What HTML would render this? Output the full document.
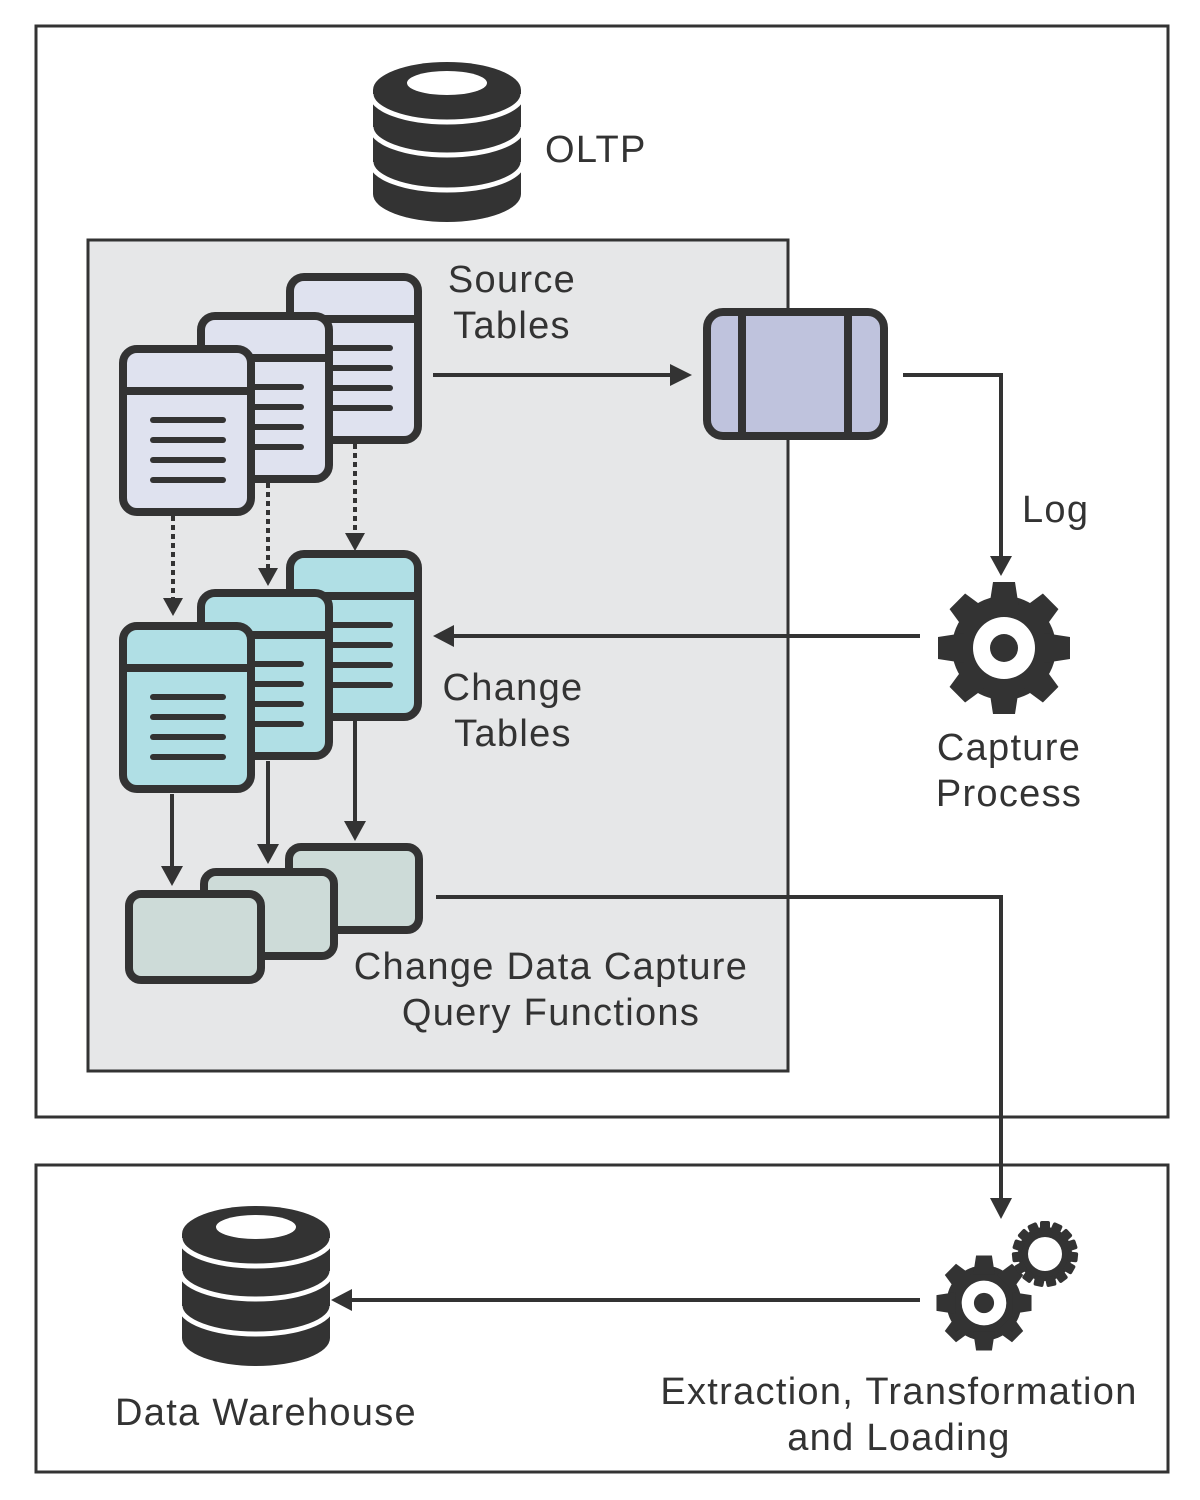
<!DOCTYPE html>
<html><head><meta charset="utf-8"><style>
html,body{margin:0;padding:0;background:#fff;}
svg{display:block;}
text{font-family:"Liberation Sans",Arial,sans-serif;fill:#333;font-size:38px;letter-spacing:1.3px;}
</style></head><body>
<svg width="1200" height="1500" viewBox="0 0 1200 1500" xmlns="http://www.w3.org/2000/svg">
<defs>
<g id="db">
<path d="M0,28 A74,28 0 0 1 148,28 L148,132 A74,28 0 0 1 0,132 Z" fill="#333"/>
<ellipse cx="74" cy="21" rx="40" ry="12" fill="#fff"/>
<path d="M-2,32 A76,28 0 0 0 150,32" fill="none" stroke="#fff" stroke-width="5"/>
<path d="M-2,65 A76,28 0 0 0 150,65" fill="none" stroke="#fff" stroke-width="5"/>
<path d="M-2,100 A76,28 0 0 0 150,100" fill="none" stroke="#fff" stroke-width="5"/>
</g>
<g id="gear">
<circle r="52" fill="#333"/>
<g fill="#333">
<path d="M-15,-40 L-11,-66 L11,-66 L15,-40 Z"/>
<path d="M-15,-40 L-11,-66 L11,-66 L15,-40 Z" transform="rotate(45)"/>
<path d="M-15,-40 L-11,-66 L11,-66 L15,-40 Z" transform="rotate(90)"/>
<path d="M-15,-40 L-11,-66 L11,-66 L15,-40 Z" transform="rotate(135)"/>
<path d="M-15,-40 L-11,-66 L11,-66 L15,-40 Z" transform="rotate(180)"/>
<path d="M-15,-40 L-11,-66 L11,-66 L15,-40 Z" transform="rotate(225)"/>
<path d="M-15,-40 L-11,-66 L11,-66 L15,-40 Z" transform="rotate(270)"/>
<path d="M-15,-40 L-11,-66 L11,-66 L15,-40 Z" transform="rotate(315)"/>
</g>
<circle r="31" fill="#fff"/>
<circle r="14" fill="#333"/>
</g>
<g id="doc">
<rect x="0" y="0" width="128" height="163" rx="14" fill="currentColor" stroke="#333" stroke-width="8"/>
<line x1="0" y1="42" x2="128" y2="42" stroke="#333" stroke-width="8"/>
<g stroke="#333" stroke-width="6" stroke-linecap="round">
<line x1="30" y1="71" x2="100" y2="71"/><line x1="30" y1="91" x2="100" y2="91"/>
<line x1="30" y1="111" x2="100" y2="111"/><line x1="30" y1="131" x2="100" y2="131"/>
</g>
</g>
</defs>

<rect x="36" y="26" width="1132" height="1091" fill="none" stroke="#333" stroke-width="3"/>
<rect x="88" y="240" width="700" height="831" fill="#e6e7e8" stroke="#333" stroke-width="3"/>
<rect x="36" y="1165" width="1132" height="307" fill="none" stroke="#333" stroke-width="3"/>

<use href="#db" x="373" y="62"/>
<text x="545" y="162">OLTP</text>

<g color="#dfe2ef">
<use href="#doc" x="290" y="277"/>
<use href="#doc" x="201" y="316"/>
<use href="#doc" x="123" y="349"/>
</g>
<g color="#b0dfe5">
<use href="#doc" x="290" y="554"/>
<use href="#doc" x="201" y="593"/>
<use href="#doc" x="123" y="626"/>
</g>

<g stroke="#333" stroke-width="4" stroke-dasharray="5,4" fill="none">
<line x1="173" y1="516" x2="173" y2="598"/>
<line x1="268" y1="483" x2="268" y2="568"/>
<line x1="355" y1="444" x2="355" y2="533"/>
</g>
<g fill="#333">
<path d="M163,598 L183,598 L173,616 Z"/>
<path d="M258,568 L278,568 L268,586 Z"/>
<path d="M345,533 L365,533 L355,551 Z"/>
</g>

<g stroke="#333" stroke-width="4">
<line x1="172" y1="794" x2="172" y2="868"/>
<line x1="268" y1="761" x2="268" y2="846"/>
<line x1="355" y1="721" x2="355" y2="823"/>
</g>
<g fill="#333">
<path d="M161,866 L183,866 L172,886 Z"/>
<path d="M257,844 L279,844 L268,864 Z"/>
<path d="M344,821 L366,821 L355,841 Z"/>
</g>

<g fill="#cddbd8" stroke="#333" stroke-width="8">
<rect x="289" y="847" width="130" height="83" rx="12"/>
<rect x="204" y="872" width="130" height="84" rx="12"/>
<rect x="129" y="894" width="132" height="86" rx="12"/>
</g>

<text x="512" y="292" text-anchor="middle">Source</text>
<text x="512" y="338" text-anchor="middle">Tables</text>
<text x="513" y="700" text-anchor="middle">Change</text>
<text x="513" y="746" text-anchor="middle">Tables</text>
<text x="551" y="979" text-anchor="middle">Change Data Capture</text>
<text x="551" y="1025" text-anchor="middle">Query Functions</text>

<rect x="707" y="312" width="177" height="124" rx="16" fill="#bfc3dd" stroke="#333" stroke-width="8"/>
<line x1="742" y1="312" x2="742" y2="436" stroke="#333" stroke-width="8"/>
<line x1="848" y1="312" x2="848" y2="436" stroke="#333" stroke-width="8"/>

<g stroke="#333" stroke-width="4" fill="none">
<line x1="433" y1="375" x2="672" y2="375"/>
<polyline points="903,375 1001,375 1001,558"/>
<line x1="920" y1="636" x2="452" y2="636"/>
<polyline points="436,897 1001,897 1001,1200"/>
<line x1="920" y1="1300" x2="350" y2="1300"/>
</g>
<g fill="#333">
<path d="M670,364 L692,375 L670,386 Z"/>
<path d="M990,556 L1012,556 L1001,576 Z"/>
<path d="M454,625 L454,647 L433,636 Z"/>
<path d="M990,1198 L1012,1198 L1001,1219 Z"/>
<path d="M352,1289 L352,1311 L331,1300 Z"/>
</g>

<text x="1022" y="522">Log</text>
<use href="#gear" x="1004" y="648"/>
<text x="1009" y="760" text-anchor="middle">Capture</text>
<text x="1009" y="806" text-anchor="middle">Process</text>

<g transform="translate(984,1303) scale(0.72)"><use href="#gear"/></g>
<g transform="translate(1045,1254)" fill="#333">
<circle r="27"/>
<rect x="-5" y="-33" width="10" height="10" rx="2"/>
<rect x="-5" y="-33" width="10" height="10" rx="2" transform="rotate(24)"/>
<rect x="-5" y="-33" width="10" height="10" rx="2" transform="rotate(48)"/>
<rect x="-5" y="-33" width="10" height="10" rx="2" transform="rotate(72)"/>
<rect x="-5" y="-33" width="10" height="10" rx="2" transform="rotate(96)"/>
<rect x="-5" y="-33" width="10" height="10" rx="2" transform="rotate(120)"/>
<rect x="-5" y="-33" width="10" height="10" rx="2" transform="rotate(144)"/>
<rect x="-5" y="-33" width="10" height="10" rx="2" transform="rotate(168)"/>
<rect x="-5" y="-33" width="10" height="10" rx="2" transform="rotate(192)"/>
<rect x="-5" y="-33" width="10" height="10" rx="2" transform="rotate(216)"/>
<rect x="-5" y="-33" width="10" height="10" rx="2" transform="rotate(240)"/>
<rect x="-5" y="-33" width="10" height="10" rx="2" transform="rotate(264)"/>
<rect x="-5" y="-33" width="10" height="10" rx="2" transform="rotate(288)"/>
<rect x="-5" y="-33" width="10" height="10" rx="2" transform="rotate(312)"/>
<rect x="-5" y="-33" width="10" height="10" rx="2" transform="rotate(336)"/>
<circle r="17" fill="#fff"/>
</g>

<use href="#db" x="182" y="1206"/>
<text x="266" y="1425" text-anchor="middle">Data Warehouse</text>
<text x="899" y="1404" text-anchor="middle">Extraction, Transformation</text>
<text x="899" y="1450" text-anchor="middle">and Loading</text>
</svg>
</body></html>
